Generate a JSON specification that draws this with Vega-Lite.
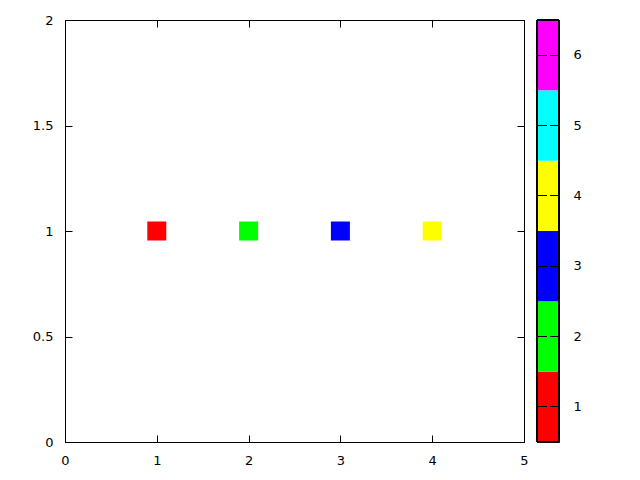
{
  "$schema": "https://vega.github.io/schema/vega-lite/v6.json",
  "padding": {"left": 4, "top": 13, "right": 0, "bottom": 0},
  "background": "white",
  "config": {
    "font": "DejaVu Sans",
    "view": {"stroke": "black", "strokeWidth": 1},
    "axis": {
      "grid": false,
      "domain": false,
      "tickColor": "black",
      "tickWidth": 1,
      "labelColor": "black",
      "labelFont": "DejaVu Sans",
      "labelFontSize": 13,
      "title": null
    }
  },
  "datasets": {
    "pts": [
      {"x": 1, "y": 1, "c": 1},
      {"x": 2, "y": 1, "c": 2},
      {"x": 3, "y": 1, "c": 3},
      {"x": 4, "y": 1, "c": 4}
    ],
    "cb": [
      {"c": 1}, {"c": 2}, {"c": 3}, {"c": 4}, {"c": 5}, {"c": 6}
    ]
  },
  "spacing": 7,
  "hconcat": [
    {
      "width": 459,
      "height": 422,
      "data": {"name": "pts"},
      "mark": {"type": "point", "shape": "square", "filled": true, "size": 361, "opacity": 1, "strokeWidth": 0},
      "encoding": {
        "x": {
          "field": "x", "type": "quantitative",
          "scale": {"domain": [0, 5], "nice": false, "zero": false},
          "axis": {"orient": "bottom", "values": [0, 1, 2, 3, 4, 5], "format": "~g", "tickSize": -422, "tickDash": [7, 408, 7, 0], "labelPadding": 434, "minExtent": 30, "maxExtent": 30, "labelFlush": false}
        },
        "y": {
          "field": "y", "type": "quantitative",
          "scale": {"domain": [0, 2], "nice": false, "zero": false},
          "axis": {"orient": "left", "values": [0, 0.5, 1, 1.5, 2], "format": "~g", "tickSize": -459, "tickDash": [7, 445, 7, 0], "labelPadding": 471, "minExtent": 60, "maxExtent": 60, "labelFlush": false}
        },
        "color": {
          "field": "c", "type": "ordinal",
          "scale": {"domain": [1, 2, 3, 4, 5, 6], "range": ["#ff0000", "#00ff00", "#0000ff", "#ffff00", "#00ffff", "#ff00ff"]},
          "legend": null
        }
      }
    },
    {
      "width": 22,
      "height": 422,
      "data": {"name": "cb"},
      "layer": [
        {
          "mark": {"type": "rect", "strokeWidth": 0},
          "encoding": {
            "y": {
              "field": "c", "type": "ordinal", "sort": "descending",
              "scale": {"paddingInner": 0, "paddingOuter": 0},
              "axis": {"orient": "right", "tickSize": -22, "tickDash": [9.5, 3, 9.5, 0], "labelPadding": 36, "labelAngle": 0, "labelAlign": "left", "labelBaseline": "middle", "minExtent": 30}
            },
            "color": {
              "field": "c", "type": "ordinal",
              "scale": {"domain": [1, 2, 3, 4, 5, 6], "range": ["#ff0000", "#00ff00", "#0000ff", "#ffff00", "#00ffff", "#ff00ff"]},
              "legend": null
            }
          }
        },
        {
          "mark": {"type": "rect", "fill": null, "filled": false, "stroke": "black", "strokeWidth": 1},
          "encoding": {}
        }
      ]
    }
  ],
  "resolve": {"scale": {"color": "shared"}}
}
